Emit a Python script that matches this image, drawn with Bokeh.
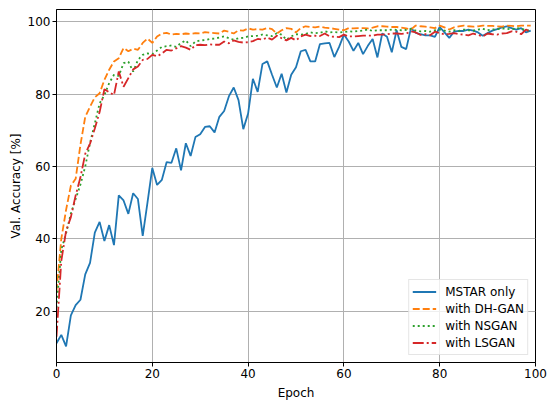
from bokeh.plotting import figure
from bokeh.models import Range1d, FixedTicker, Legend, LegendItem
from bokeh.embed import file_html
from bokeh.resources import INLINE

epochs = list(range(100))

mstar_only = [11.2, 13.5, 10.3, 18.9, 21.7, 23.2, 30.2, 33.4, 41.7, 44.7,
              39.4, 43.8, 38.3, 52.0, 50.6, 46.9, 52.6, 51.0, 40.8, 50.1,
              59.6, 54.9, 56.3, 61.2, 61.0, 65.0, 58.9, 66.4, 62.9, 68.1,
              68.9, 70.9, 71.1, 69.4, 73.7, 75.3, 79.4, 81.8, 78.3, 70.3,
              74.6, 84.2, 80.6, 88.3, 89.0, 85.3, 81.8, 85.6, 80.4, 85.3,
              87.4, 91.8, 92.2, 89.0, 89.0, 93.8, 94.0, 94.1, 90.2, 93.0,
              96.4, 94.5, 91.9, 94.1, 91.0, 93.3, 95.2, 90.1, 96.7, 95.8,
              91.5, 97.6, 93.0, 92.4, 98.2, 96.9, 96.5, 96.2, 96.2, 95.8,
              98.5, 97.0, 95.5, 97.2, 97.4, 97.4, 97.8, 97.5, 97.0, 96.1,
              96.8, 97.5, 97.9, 98.4, 98.7, 98.2, 97.8, 98.2, 97.0, 97.5]

dh_gan = [25.6, 40.0, 48.0, 54.7, 56.6, 66.0, 73.7, 76.5, 79.1, 80.2,
          83.9, 86.7, 89.0, 89.9, 92.7, 91.8, 92.5, 92.2, 94.1, 95.3,
          94.1, 95.9, 96.7, 96.9, 96.4, 96.6, 96.5, 96.7, 96.6, 96.8,
          96.7, 97.1, 96.9, 96.8, 96.7, 97.5, 97.2, 96.7, 97.6, 97.5,
          98.1, 97.8, 97.9, 97.8, 98.2, 97.9, 96.7, 97.6, 98.2, 98.0,
          97.0, 98.2, 98.7, 98.5, 98.4, 98.6, 98.3, 98.2, 98.0, 97.8,
          97.6, 98.2, 98.1, 98.2, 98.2, 98.1, 98.3, 98.7, 98.7, 98.6,
          98.5, 98.5, 98.3, 98.1, 97.8, 98.9, 98.7, 98.6, 98.4, 98.2,
          98.9, 98.4, 97.8, 98.4, 98.7, 98.9, 98.7, 98.6, 98.7, 98.9,
          98.8, 98.8, 98.7, 98.6, 98.9, 98.8, 98.7, 98.9, 98.9, 98.9]

nsgan = [21.0, 37.0, 41.5, 47.0, 51.0, 55.0, 60.0, 66.5, 71.9, 77.4,
         79.7, 83.0, 85.3, 85.0, 88.5, 88.9, 86.2, 89.4, 90.8, 91.2,
         91.0, 92.0, 93.0, 93.2, 93.4, 93.0, 94.1, 94.8, 93.2, 94.5,
         94.8, 94.9, 95.2, 95.3, 95.6, 95.9, 95.4, 95.0, 95.4, 95.5,
         95.9, 96.0, 96.1, 96.4, 96.2, 96.0, 96.8, 96.4, 95.0, 95.9,
         96.5, 96.4, 96.6, 97.0, 96.8, 96.9, 97.3, 97.0, 97.1, 97.0,
         97.1, 97.3, 97.2, 97.4, 97.5, 97.8, 97.4, 97.6, 97.6, 97.6,
         97.8, 97.7, 97.6, 97.7, 98.0, 97.5, 97.3, 97.4, 97.2, 97.6,
         97.8, 97.5, 97.2, 97.6, 97.4, 97.8, 97.6, 97.5, 97.8, 98.0,
         97.6, 97.8, 97.9, 98.1, 98.0, 97.8, 98.2, 98.1, 97.6, 97.5]

lsgan = [13.0, 33.9, 42.2, 46.0, 52.0, 57.0, 63.5, 66.3, 70.5, 75.0,
         81.3, 80.5, 79.7, 86.2, 82.0, 84.4, 86.8, 87.6, 89.4, 89.7,
         90.8, 90.4, 91.2, 92.2, 92.0, 92.6, 93.2, 92.8, 92.2, 93.5,
         93.6, 93.5, 93.7, 93.6, 93.6, 94.5, 94.0, 94.8, 94.4, 94.2,
         94.3, 94.6, 95.2, 95.0, 95.6, 95.0, 96.1, 95.4, 94.8, 95.5,
         94.8, 95.9, 96.4, 96.0, 96.1, 96.0, 96.7, 95.9, 95.8, 95.7,
         96.4, 95.9, 95.9, 96.0, 96.1, 96.1, 96.1, 96.4, 96.4, 96.5,
         96.7, 96.7, 96.6, 96.7, 97.3, 97.0, 96.3, 96.5, 96.2, 97.2,
         96.8, 96.5, 96.6, 96.8, 96.5, 96.4, 96.2, 96.7, 96.3, 95.9,
         96.7, 96.5, 96.4, 96.7, 96.8, 97.3, 97.2, 96.5, 97.8, 97.1]

series_names = ["MSTAR only", "with DH-GAN", "with NSGAN", "with LSGAN"]
x_ticks = [0, 20, 40, 60, 80, 100]
y_ticks = [20, 40, 60, 80, 100]

allv = mstar_only + dh_gan + nsgan + lsgan
lo, hi = min(allv), max(allv)
pad = 0.05 * (hi - lo)

FONT = "DejaVu Sans"
FS = "12px"

p = figure(width=550, height=404, output_backend="svg", toolbar_location=None,
           x_range=Range1d(0, 100), y_range=Range1d(lo - pad, hi + pad),
           min_border_left=56, min_border_top=9, min_border_right=15,
           min_border_bottom=42)

p.background_fill_color = "white"
p.border_fill_color = "white"
p.outline_line_color = "black"
p.outline_line_width = 1

for ax in (p.xaxis[0], p.yaxis[0]):
    ax.axis_line_color = "black"
    ax.major_tick_line_color = "black"
    ax.major_tick_out = 4
    ax.major_tick_in = 0
    ax.minor_tick_out = 0
    ax.minor_tick_in = 0
    ax.major_label_text_font = FONT
    ax.major_label_text_font_size = FS
    ax.major_label_text_color = "black"
    ax.axis_label_text_font = FONT
    ax.axis_label_text_font_size = FS
    ax.axis_label_text_font_style = "normal"
    ax.axis_label_text_color = "black"
    ax.major_label_standoff = 2
    ax.axis_label_standoff = 2
p.xaxis[0].axis_label_standoff = 5

p.xaxis.ticker = FixedTicker(ticks=x_ticks)
p.yaxis.ticker = FixedTicker(ticks=y_ticks)
p.xaxis.axis_label = "Epoch"
p.yaxis.axis_label = "Val. Accuracy [%]"

p.xgrid.ticker = FixedTicker(ticks=x_ticks)
p.ygrid.ticker = FixedTicker(ticks=y_ticks)
for g in (p.xgrid[0], p.ygrid[0]):
    g.grid_line_color = "#b0b0b0"
    g.grid_line_width = 1

colors = ["#1f77b4", "#ff7f0e", "#2ca02c", "#d62728"]
dashes = ["solid", "7 3", "2 3", "11 3 2 3"]
data = [mstar_only, dh_gan, nsgan, lsgan]

items = []
for name, ys, c, d in zip(series_names, data, colors, dashes):
    r = p.line(epochs, ys, line_color=c, line_width=1.8, line_dash=d)
    items.append(LegendItem(label=name, renderers=[r]))

legend = Legend(items=items, location="bottom_right")
legend.label_text_font = FONT
legend.label_text_font_size = FS
legend.label_text_color = "black"
legend.glyph_width = 24
legend.glyph_height = 17
legend.label_height = 17
legend.label_standoff = 9
legend.spacing = 0
legend.padding = 3
legend.margin = 7
legend.border_line_color = "#cccccc"
legend.border_line_width = 1
legend.background_fill_color = "white"
legend.background_fill_alpha = 0.8
p.add_layout(legend)

open("out.html", "w").write(file_html(p, INLINE))
